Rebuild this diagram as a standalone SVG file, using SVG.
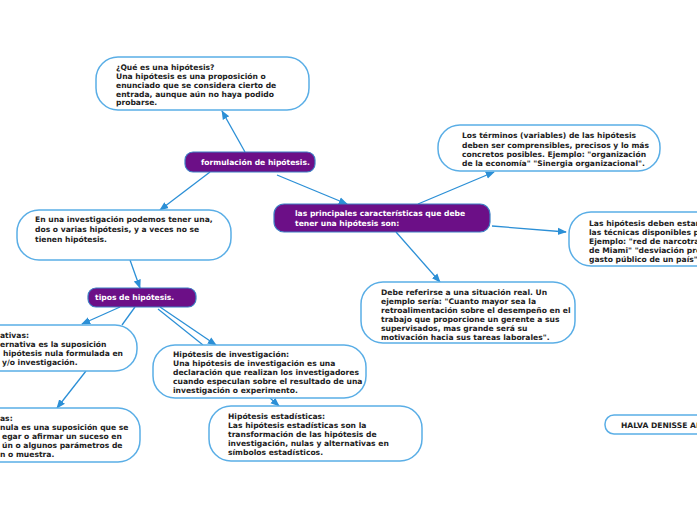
<svg xmlns="http://www.w3.org/2000/svg" width="697" height="520" viewBox="0 0 697 520">
<style>
.b{fill:#fff;stroke:#5aaee6;stroke-width:1.5}
.p{fill:#6c0f87;stroke:#3d7fc4;stroke-width:1.2}
text{font-family:"DejaVu Sans",Verdana,sans-serif;font-size:7.6px;font-weight:bold;fill:#222}
.w{fill:#fff}
.c line{stroke:#2b8fd6;stroke-width:1.3}
</style>
<defs><marker id="a" viewBox="0 0 10 10" refX="9" refY="5" markerWidth="7" markerHeight="7" orient="auto"><path d="M0,1 L10,5 L0,9 z" fill="#2b8fd6"/></marker></defs>
<rect width="697" height="520" fill="#fff"/>
<g class="c">
<line x1="245" y1="152" x2="222" y2="111" marker-end="url(#a)"/>
<line x1="210" y1="172" x2="160" y2="210" marker-end="url(#a)"/>
<line x1="277" y1="175" x2="347" y2="204" marker-end="url(#a)"/>
<line x1="418" y1="204" x2="494" y2="172" marker-end="url(#a)"/>
<line x1="492" y1="226" x2="566" y2="232" marker-end="url(#a)"/>
<line x1="396" y1="232" x2="440" y2="282" marker-end="url(#a)"/>
<line x1="130" y1="260" x2="140" y2="288" marker-end="url(#a)"/>
<line x1="120" y1="307" x2="82" y2="324" marker-end="url(#a)"/>
<line x1="135" y1="307" x2="122" y2="325"/>
<line x1="158" y1="309" x2="203" y2="345"/>
<line x1="160" y1="307" x2="216" y2="345" marker-end="url(#a)"/>
<line x1="86" y1="371" x2="57" y2="408" marker-end="url(#a)"/>
<line x1="270" y1="398" x2="279" y2="406" marker-end="url(#a)"/>
</g>
<g id="que"><rect class="b" x="96" y="57" width="213" height="53" rx="22"/>
<text x="116" y="70">¿Qué es una hipótesis?</text><text x="116" y="79">Una hipótesis es una proposición o</text><text x="116" y="88">enunciado que se considera cierto de</text><text x="116" y="97">entrada, aunque aún no haya podido</text><text x="116" y="105">probarse.</text></g>
<g id="form"><rect class="p" x="185" y="152" width="130" height="20" rx="8"/><text class="w" x="201" y="165">formulación de hipótesis.</text></g>
<g id="enuna"><rect class="b" x="17" y="210" width="214" height="50" rx="22"/>
<text x="35" y="222">En una investigación podemos tener una,</text><text x="35" y="232">dos o varias hipótesis, y a veces no se</text><text x="35" y="242">tienen hipótesis.</text></g>
<g id="princ"><rect class="p" x="274" y="204" width="216" height="28" rx="10"/>
<text class="w" x="295" y="216">las principales características que debe</text><text class="w" x="295" y="226">tener una hipótesis son:</text></g>
<g id="term"><rect class="b" x="438" y="125" width="222" height="46" rx="22"/>
<text x="462" y="138">Los términos (variables) de las hipótesis</text><text x="462" y="148">deben ser comprensibles, precisos y lo más</text><text x="462" y="157">concretos posibles. Ejemplo: "organización</text><text x="462" y="166">de la economía" "Sinergia organizacional".</text></g>
<g id="rel"><rect class="b" x="569" y="212" width="150" height="54" rx="22"/>
<text x="589" y="226">Las hipótesis deben estar re</text><text x="589" y="235">las técnicas disponibles par</text><text x="589" y="244">Ejemplo: "red de narcotrafic</text><text x="589" y="253">de Miami" "desviación pres</text><text x="589" y="262">gasto público de un país".</text></g>
<g id="debe"><rect class="b" x="361" y="282" width="214" height="61" rx="22"/>
<text x="381" y="295">Debe referirse a una situación real. Un</text><text x="381" y="304">ejemplo sería: "Cuanto mayor sea la</text><text x="381" y="313">retroalimentación sobre el desempeño en el</text><text x="381" y="322">trabajo que proporcione un gerente a sus</text><text x="381" y="331">supervisados, mas grande será su</text><text x="381" y="340">motivación hacia sus tareas laborales".</text></g>
<g id="tipos"><rect class="p" x="88" y="288" width="108" height="19" rx="8"/><text class="w" x="95" y="300">tipos de hipótesis.</text></g>
<g id="alt"><rect class="b" x="-80" y="325" width="217" height="46" rx="22"/>
<text x="0" y="338">ativas:</text><text x="0" y="347">ernativa es la suposición</text><text x="3" y="356">hipótesis nula formulada en</text><text x="2" y="365">y/o investigación.</text></g>
<g id="nula"><rect class="b" x="-80" y="408" width="220" height="54" rx="22"/>
<text x="0" y="421">as:</text><text x="0" y="430">nula es una suposición que se</text><text x="2" y="439">egar o afirmar un suceso en</text><text x="2" y="448">ún o algunos parámetros de</text><text x="0" y="457">n o muestra.</text></g>
<g id="inv"><rect class="b" x="153" y="345" width="213" height="53" rx="22"/>
<text x="173" y="357">Hipótesis de investigación:</text><text x="173" y="366">Una hipótesis de investigación es una</text><text x="173" y="375">declaración que realizan los investigadores</text><text x="173" y="384">cuando especulan sobre el resultado de una</text><text x="173" y="393">investigación o experimento.</text></g>
<g id="est"><rect class="b" x="209" y="406" width="213" height="55" rx="22"/>
<text x="228" y="419">Hipótesis estadísticas:</text><text x="228" y="428">Las hipótesis estadísticas son la</text><text x="228" y="437">transformación de las hipótesis de</text><text x="228" y="446">investigación, nulas y alternativas en</text><text x="228" y="455">símbolos estadísticos.</text></g>
<g id="halva"><rect class="b" x="605" y="415" width="120" height="19" rx="9"/><text x="621" y="428">HALVA DENISSE AL</text></g>
</svg>
